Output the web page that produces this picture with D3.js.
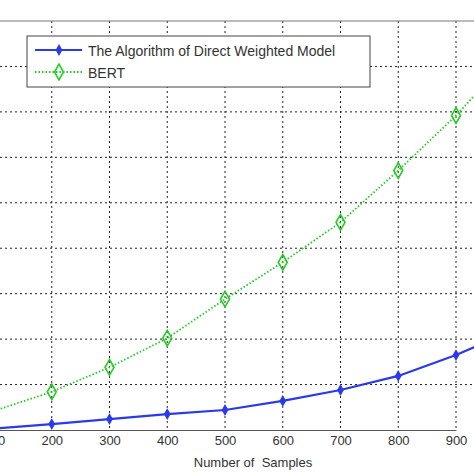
<!DOCTYPE html><html><head><meta charset="utf-8"><script src="https://cdn.jsdelivr.net/npm/d3@7"></script>
<style>body{margin:0;background:#fff}svg{display:block}</style></head><body><script>
const samples=[100,200,300,400,500,600,700,800,900,1000];
const dwm=[0.3,1.3,2.4,3.5,4.4,6.4,8.8,11.9,16.5,22];
const bert=[4.2,8.4,13.8,20.2,28.8,36.9,45.7,57.1,69.2,83];
const xTicks=[100,200,300,400,500,600,700,800,900];
const yTicks=[10,20,30,40,50,60,70,80];
const W=474,H=474;
const svg=d3.select("body").append("svg").attr("width",W).attr("height",H);
const x=d3.scaleLinear().domain([100,900]).range([-6,456]);
const y=d3.scaleLinear().domain([0,90]).range([430,21]);
const g=svg.append("g");
// grids
g.selectAll(".vg").data(xTicks).join("line").attr("x1",d=>x(d)).attr("x2",d=>x(d)).attr("y1",21).attr("y2",430)
 .attr("stroke","#222").attr("stroke-dasharray","2,3").attr("stroke-width",1);
g.selectAll(".hg").data(yTicks).join("line").attr("x1",0).attr("x2",W).attr("y1",d=>y(d)).attr("y2",d=>y(d))
 .attr("stroke","#222").attr("stroke-dasharray","2,3").attr("stroke-width",1);
g.append("line").attr("x1",0).attr("x2",W).attr("y1",21).attr("y2",21).attr("stroke","#777");
const ax=g.append("g").attr("transform","translate(0,430)").call(d3.axisBottom(x).tickValues(xTicks).tickSize(0).tickPadding(6).tickFormat(d3.format("d")));
ax.select(".domain").attr("stroke","#555");
ax.selectAll("text").attr("font-family","Arial, Liberation Sans").attr("font-size",13).attr("fill","#333");
g.append("text").attr("x",253).attr("y",467).attr("text-anchor","middle").attr("font-family","Arial, Liberation Sans").attr("font-size",13).attr("fill","#333").attr("xml:space","preserve").text("Number of  Samples");
const line=d3.line().x((d,i)=>x(samples[i])).y(d=>y(d));
g.append("path").datum(bert).attr("d",line).attr("fill","none").attr("stroke","#22cc22").attr("stroke-width",1.8).attr("stroke-dasharray","1.5,2");
g.append("path").datum(dwm).attr("d",line).attr("fill","none").attr("stroke","#2a3ae8").attr("stroke-width",2.2);
const dia=d3.symbol().type(d3.symbolDiamond).size(70);
g.selectAll(".bm").data(bert).join("path").attr("transform",(d,i)=>`translate(${x(samples[i])},${y(d)})`).attr("d",dia).attr("fill","none").attr("stroke","#22cc22").attr("stroke-width",1.6);
g.selectAll(".dm").data(dwm).join("path").attr("transform",(d,i)=>`translate(${x(samples[i])},${y(d)})`).attr("d",d3.symbol().type(d3.symbolDiamond).size(40)).attr("fill","#2a3ae8");
// legend
const lg=svg.append("g");
lg.append("rect").attr("x",27).attr("y",36).attr("width",343).attr("height",51).attr("fill","#fff").attr("stroke","#444");
lg.append("line").attr("x1",35).attr("x2",82).attr("y1",50).attr("y2",50).attr("stroke","#2a3ae8").attr("stroke-width",2);
lg.append("path").attr("transform","translate(59,50)").attr("d",d3.symbol().type(d3.symbolDiamond).size(40)).attr("fill","#2a3ae8");
lg.append("line").attr("x1",35).attr("x2",82).attr("y1",72).attr("y2",72).attr("stroke","#22cc22").attr("stroke-width",1.8).attr("stroke-dasharray","1.5,2");
lg.append("path").attr("transform","translate(59,72)").attr("d",dia).attr("fill","none").attr("stroke","#22cc22").attr("stroke-width",1.6);
lg.append("text").attr("x",88).attr("y",56).attr("font-family","Arial, Liberation Sans").attr("font-size",14).attr("fill","#333").text("The Algorithm of Direct Weighted Model");
lg.append("text").attr("x",88).attr("y",78).attr("font-family","Arial, Liberation Sans").attr("font-size",14).attr("fill","#333").text("BERT");
</script></body></html>
